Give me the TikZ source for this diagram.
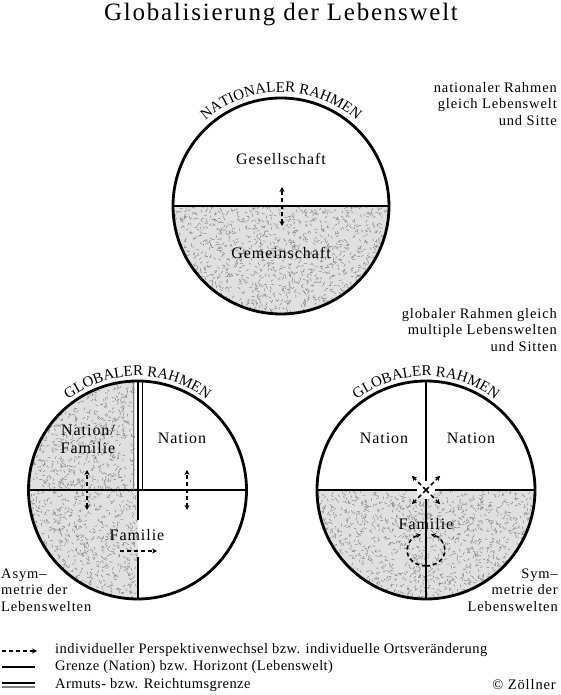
\documentclass[tikz,border=0pt]{standalone}
\usepackage{fontspec}
\setmainfont{Liberation Serif}
\newfontfamily\lblfont[LetterSpace=6]{Liberation Serif}
\newfontfamily\ttlfont[LetterSpace=7]{Liberation Serif}
\newfontfamily\lgdfont[LetterSpace=3]{Liberation Serif}
\newcommand\arcfont{\fontsize{15}{15}\selectfont}
\usetikzlibrary{arrows.meta,decorations.text}
\definecolor{stipple}{gray}{0.88}
\definecolor{speckgray}{gray}{0.52}
\definecolor{rimgray}{gray}{0.5}
\begin{document}
\begin{tikzpicture}[x=1pt,y=1pt,>={Stealth[length=5pt,width=5pt]},
  rimline/.style={line width=2.8pt},
  border/.style={line width=2pt},
  speck/.style={line width=0.5pt,speckgray,line cap=round},
  move/.style={line width=1.6pt,dash pattern=on 4pt off 3pt},
  fieldtext/.style={font=\lblfont\fontsize{16}{18}\selectfont,inner sep=0pt},
  sidetext/.style={font=\lblfont\fontsize{14.5}{16.5}\selectfont,inner sep=0pt},
  legendtext/.style={font=\lgdfont\fontsize{14.5}{16.5}\selectfont,inner sep=0pt,anchor=west},
  arctext/.style={decorate,decoration={text along path,text align=center,text={|\arcfont|#1}}}]
\useasboundingbox (0,0) rectangle (560,695);
\pgfmathsetseed{7}
\node[font=\ttlfont\fontsize{25}{28}\selectfont,inner sep=0pt] (title) at (281,680) {Globalisierung der Lebenswelt};
\coordinate (ctop) at (281,489);
\coordinate (cleft) at (137.5,205);
\coordinate (cright) at (426,205);
\begin{scope}
\clip (ctop) ++(180:108) arc[start angle=180,end angle=360,radius=108] -- cycle;
\fill[stipple] (173,381) rectangle (389,489);
\foreach \i in {1,...,1400}{\draw[speck] (173+216*rnd,381+108*rnd) -- ++(360*rnd:2.6);}
\end{scope}
\draw[border] (ctop) ++(180:108) -- ++(216,0);
\draw[rimline] (ctop) circle[radius=108];
\path[arctext={NATIONALER RAHMEN}] (ctop) ++(150:114) arc[start angle=150,end angle=30,radius=114];
\node[fieldtext] (gesell) at (281,536) {Gesellschaft};
\node[fieldtext] (gemein) at (281,442) {Gemeinschaft};
\coordinate (gup) at (282,508);
\coordinate (gdn) at (282,469);
\draw[move,<->] (gdn) -- (gup);
\begin{scope}
\clip (cleft) ++(90:109) arc[start angle=90,end angle=270,radius=109] -- cycle;
\fill[stipple] (28,96) rectangle (137.5,314);
\foreach \i in {1,...,1400}{\draw[speck] (28+110*rnd,96+218*rnd) -- ++(360*rnd:2.6);}
\end{scope}
\draw[border] (cleft) ++(180:109) -- ++(218,0);
\draw[line width=2pt,white] (135.5,207) -- (135.5,313.9);
\draw[line width=1.2pt,rimgray] (133.5,205) -- (133.5,313.9);
\draw[line width=1pt] (142,205) -- (142,313.9);
\draw[border] (cleft) ++(0,109) -- (137.5,175);
\draw[border] (137.5,138) -- (137.5,96);
\draw[rimline] (cleft) circle[radius=109];
\path[arctext={GLOBALER RAHMEN}] (cleft) ++(150:114) arc[start angle=150,end angle=30,radius=114];
\node[fieldtext,align=center] (natfam) at (88,256) {Nation/\\Familie};
\node[fieldtext] (natleft) at (182,257) {Nation};
\node[fieldtext] (famleft) at (137,160) {Familie};
\coordinate (a1) at (87,225);
\coordinate (a2) at (87,185);
\coordinate (b1) at (187,225);
\coordinate (b2) at (187,185);
\coordinate (c1) at (120,144);
\coordinate (c2) at (157,144);
\foreach \u/\v in {a2/a1,b2/b1}{\draw[move,<->] (\u)--(\v);}
\draw[move,->] (c1)--(c2);
\begin{scope}
\clip (cright) ++(180:109) arc[start angle=180,end angle=360,radius=109] -- cycle;
\fill[stipple] (317,96) rectangle (535,205);
\foreach \i in {1,...,1400}{\draw[speck] (317+218*rnd,96+109*rnd) -- ++(360*rnd:2.6);}
\end{scope}
\draw[border] (cright) ++(180:109) -- ++(218,0);
\draw[border] (cright) ++(0,109) -- ++(0,-218);
\fill[white] (cright) circle[radius=9];
\foreach \a in {45,135,225,315}{\path (cright) ++(\a:20) coordinate (x\a);
  \draw[move,->] (cright) -- (x\a);}
\coordinate (fam) at (426,145);
\draw[move,->] (fam) ++(0,-16) arc[start angle=270,end angle=105,x radius=19,y radius=16];
\draw[move,->] (fam) ++(0,-16) arc[start angle=-90,end angle=75,x radius=19,y radius=16];
\draw[rimline] (cright) circle[radius=109];
\path[arctext={GLOBALER RAHMEN}] (cright) ++(150:114) arc[start angle=150,end angle=30,radius=114];
\node[fieldtext] (natr1) at (384,257) {Nation};
\node[fieldtext] (natr2) at (471,257) {Nation};
\node[fieldtext] (famright) at (426,171) {Familie};
\node[sidetext,align=right,anchor=east] (natnote) at (557,591) {nationaler Rahmen\\gleich Lebenswelt\\und Sitte};
\node[sidetext,align=right,anchor=east] (globnote) at (557,365) {globaler Rahmen gleich\\multiple Lebenswelten\\und Sitten};
\node[sidetext,align=left,anchor=west] (asym) at (1,105) {Asym–\\metrie der\\Lebenswelten};
\node[sidetext,align=right,anchor=east] (sym) at (558,105) {Sym–\\metrie der\\Lebenswelten};
\coordinate (k1a) at (2,44);
\coordinate (k1b) at (37,44);
\coordinate (k2a) at (2,28);
\coordinate (k2b) at (35,28);
\coordinate (k3a) at (2,12);
\coordinate (k3b) at (35,12);
\coordinate (k4a) at (2,8);
\coordinate (k4b) at (35,8);
\draw[move,->] (k1a) -- (k1b);
\draw[border] (k2a) -- (k2b);
\draw[line width=1.5pt] (k3a) -- (k3b);
\draw[line width=1.5pt,rimgray] (k4a) -- (k4b);
\node[legendtext] (k1) at (55,45) {individueller Perspektivenwechsel bzw. individuelle Ortsveränderung};
\node[legendtext] (k2) at (55,28) {Grenze (Nation) bzw. Horizont (Lebenswelt)};
\node[legendtext] (k3) at (55,10) {Armuts- bzw. Reichtumsgrenze};
\node[sidetext,anchor=east] (copy) at (556,10) {© Zöllner};
\end{tikzpicture}
\end{document}
